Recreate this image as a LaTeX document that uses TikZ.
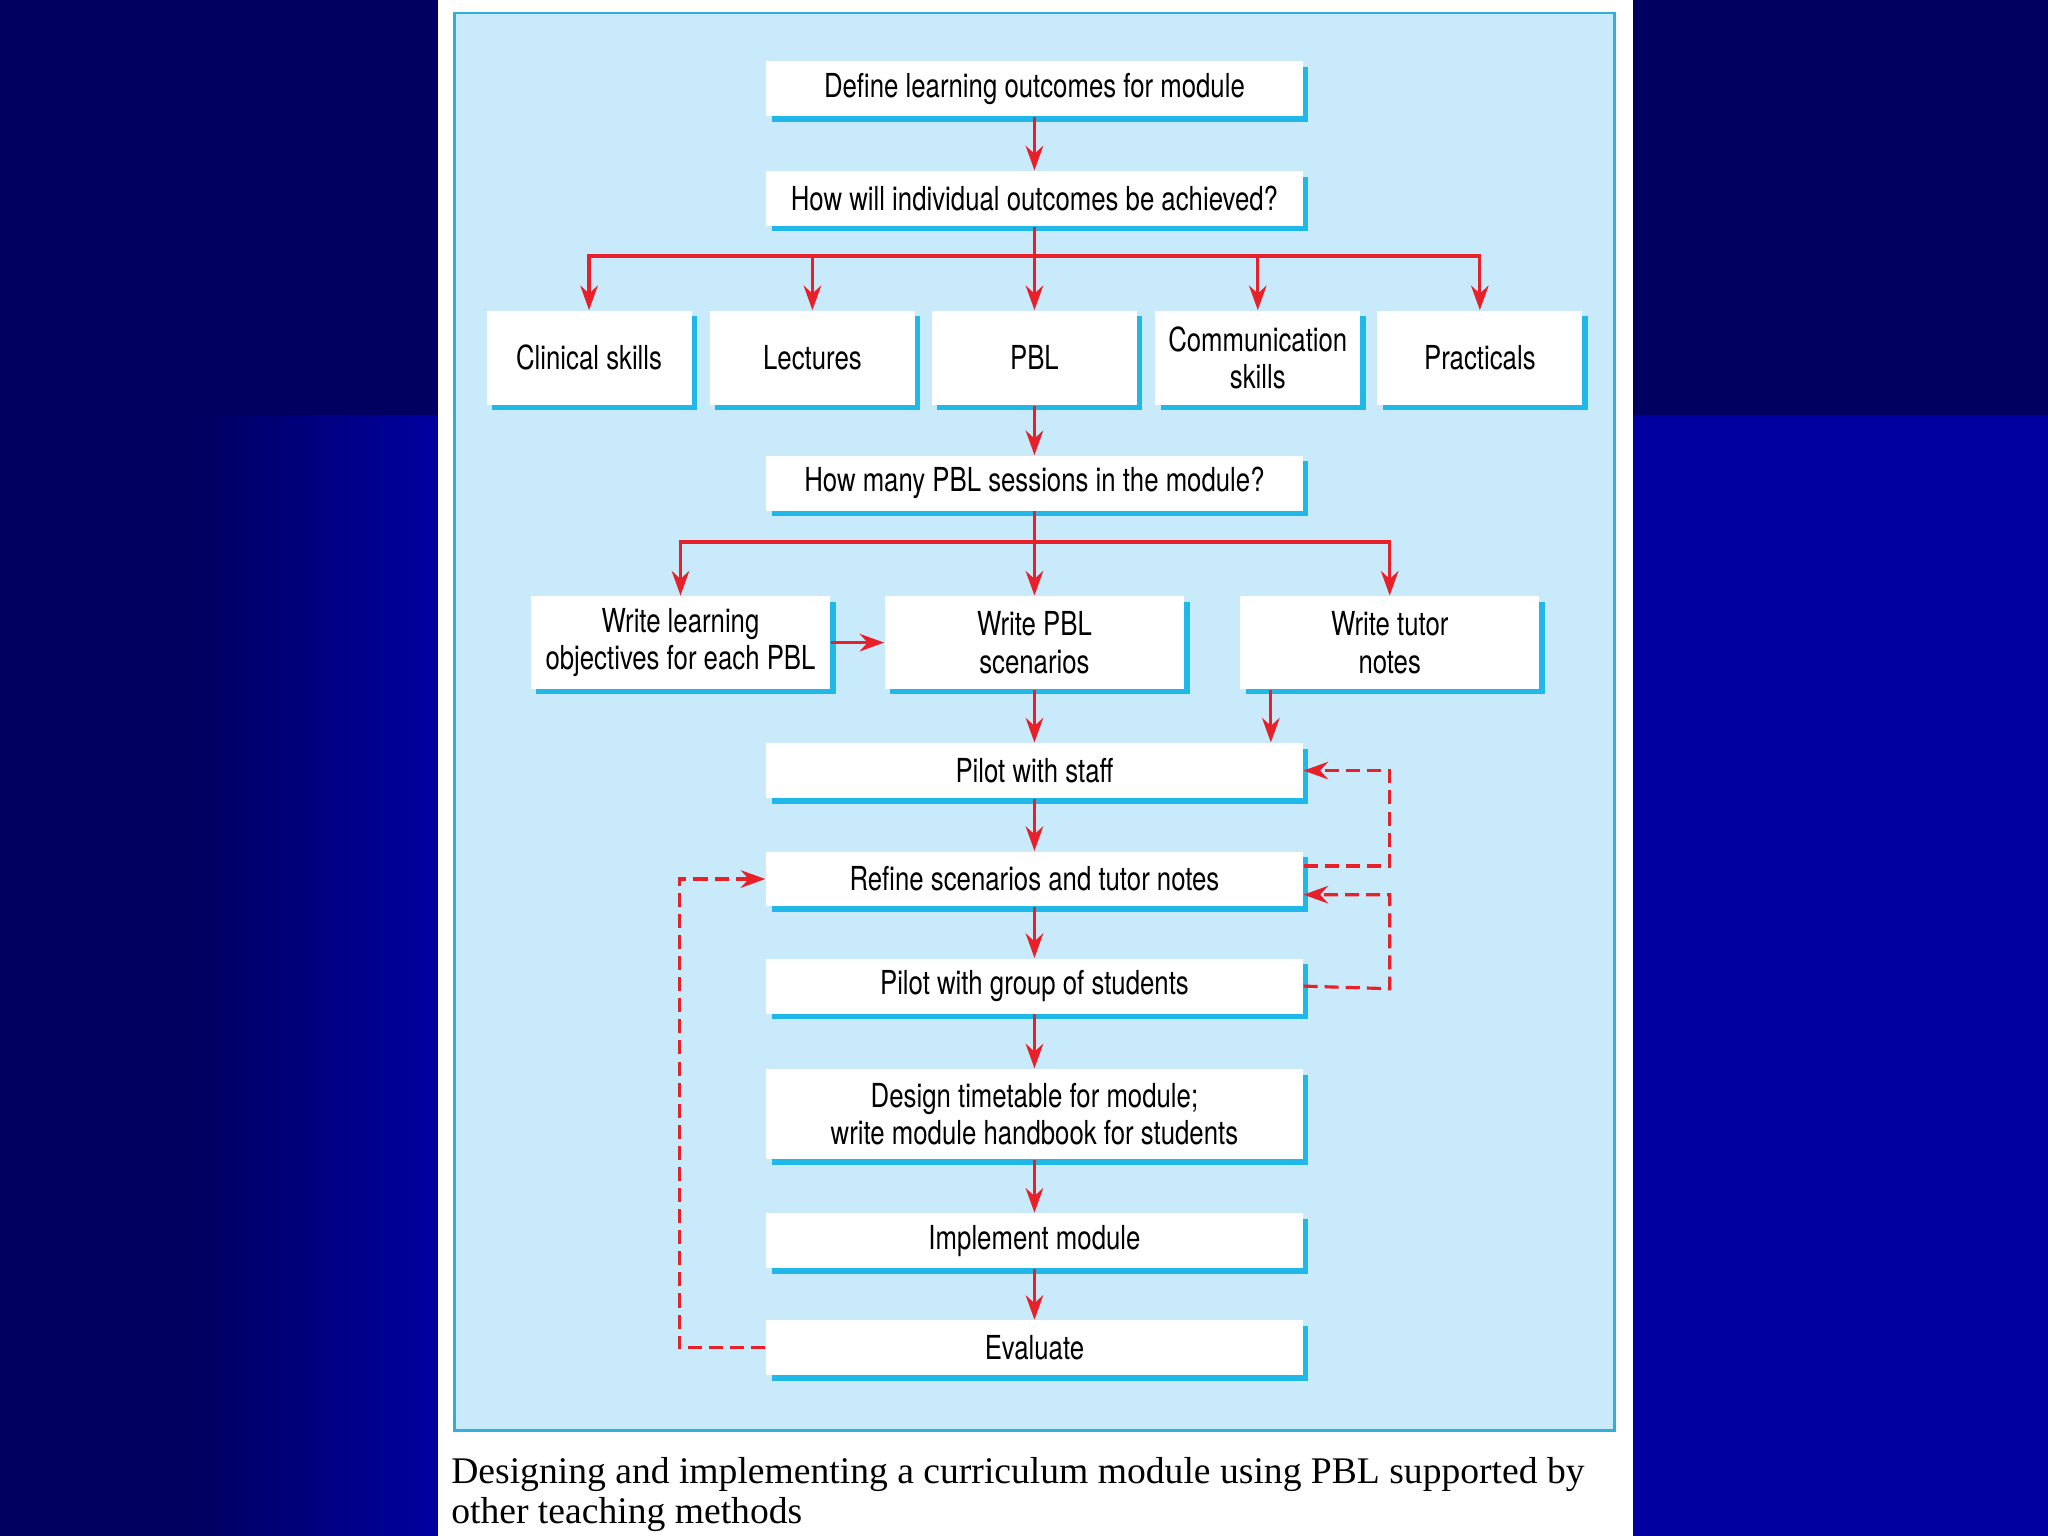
\documentclass[tikz,border=0pt]{standalone}
\usepackage{fontspec}
\setmainfont{Liberation Serif}
\newfontfamily\boxfont{TeX Gyre Heros}[FakeStretch=0.78]
\usetikzlibrary{arrows.meta,shadows}
\definecolor{panel}{HTML}{C8EAFA}
\definecolor{panelline}{HTML}{30B0D8}
\definecolor{shade}{HTML}{20B8E8}
\definecolor{arr}{HTML}{E8202A}
\definecolor{navyA}{HTML}{000060}
\definecolor{navyB}{HTML}{0000A0}
\newcommand\pxu{0.01306cm}
\tikzset{
  box/.style={draw=none,fill=white,align=center,font=\boxfont\fontsize{9.4}{10.6}\selectfont,
    drop shadow={shadow xshift=0.055cm,shadow yshift=-0.055cm,fill=shade,opacity=1},
    inner sep=0pt},
  wide/.style={box,minimum width=411*\pxu,minimum height=42*\pxu},
  tall/.style={box,minimum width=157*\pxu,minimum height=72*\pxu},
  mid/.style={box,minimum width=229*\pxu,minimum height=71*\pxu},
  flow/.style={draw=arr,line width=0.9pt,-{Stealth[length=7pt,width=5pt]}},
  back/.style={flow,dashed,dash pattern=on 4pt off 2pt},
}
\begin{document}
\begin{tikzpicture}[x=\pxu,y=-\pxu]
\useasboundingbox (0,0) rectangle (1568,1176);
% background
\fill[navyA] (0,0) rectangle (1568,1176);
\fill[navyB] (1250,318) rectangle (1568,1176);
\shade[left color=navyA,right color=navyB] (150,318) rectangle (335,1176);
\fill[white] (335,0) rectangle (1250,1176);
\draw[panelline,fill=panel,line width=0.8pt] (348,10) rectangle (1236,1095);
% boxes
\node[wide] (define) at (792,68) {Define learning outcomes for module};
\node[wide] (how) at (792,152) {How will individual outcomes be achieved?};
\node[tall] (clin) at (451,274) {Clinical skills};
\node[tall] (lect) at (622,274) {Lectures};
\node[tall] (pbl) at (792,274) {PBL};
\node[tall] (comm) at (963,274) {Communication\\skills};
\node[tall] (prac) at (1133,274) {Practicals};
\node[wide] (many) at (792,370) {How many PBL sessions in the module?};
\node[mid] (obj) at (521,492) {Write learning\\objectives for each PBL};
\node[mid] (scen) at (792,492) {Write PBL\\scenarios};
\node[mid] (tutor) at (1064,492) {Write tutor\\notes};
\node[wide] (staff) at (792,590) {Pilot with staff};
\node[wide] (refine) at (792,673) {Refine scenarios and tutor notes};
\node[wide] (stud) at (792,755) {Pilot with group of students};
\node[wide,minimum height=69*\pxu] (design) at (792,853) {Design timetable for module;\\write module handbook for students};
\node[wide] (impl) at (792,950) {Implement module};
\node[wide] (eval) at (792,1032) {Evaluate};
\coordinate (b1) at (792,196);
\coordinate (b2) at (792,415);
% connectors
\draw[flow] (define) -- (how);
\draw[draw=arr,line width=0.9pt] (how) -- (b1);
\foreach \n in {clin,lect,pbl,comm,prac}
  \draw[flow] (b1) -| (\n);
\draw[flow] (pbl) -- (many);
\draw[draw=arr,line width=0.9pt] (many) -- (b2);
\foreach \n in {obj,scen,tutor}
  \draw[flow] (b2) -| (\n);
\draw[flow] (obj) -- (scen);
\draw[flow] (scen) -- (staff);
\draw[flow] (tutor.south -| 973,0) -- (staff.north -| 973,0);
\foreach \a/\b in {staff/refine,refine/stud,stud/design,design/impl,impl/eval}
  \draw[flow] (\a) -- (\b);
\draw[back] (refine.east |- 0,663) -- (1064,663) |- (staff.east);
\draw[back] (stud.east) -- (1064,757) |- (refine.east |- 0,685);
\draw[back] (eval.west) -- (520,1032) |- (refine.west);
% caption
\node[anchor=north west,align=left,inner sep=0pt,font=\fontsize{10.7}{11.6}\selectfont] (cap) at (345,1115)
  {Designing and implementing a curriculum module using PBL supported by\\other teaching methods};
\end{tikzpicture}
\end{document}
